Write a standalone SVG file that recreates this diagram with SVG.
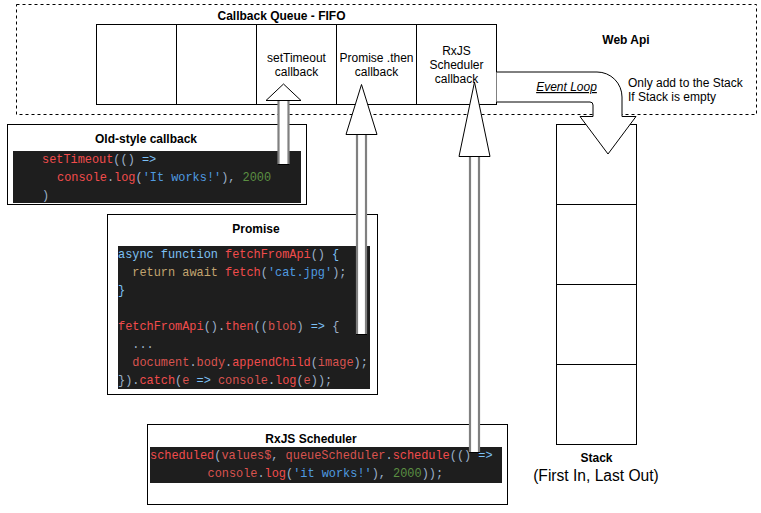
<svg xmlns="http://www.w3.org/2000/svg" width="761" height="513" viewBox="0 0 761 513">
<style>
.lbl{font-family:"Liberation Sans",Arial,sans-serif;font-size:12px;fill:#000}
.b{font-weight:bold}
.box{fill:#fff;stroke:#000;stroke-width:1}
.code{fill:#1e1e1e}
.mono{font-family:"Liberation Mono","Courier New",monospace;font-size:11.9px}
.r{fill:#f14c4c}
.v{fill:#d9534f}
.p{fill:#9cb0c8}
.k{fill:#7cc0f5}
.s{fill:#4f9be0}
.t{fill:#c2a46f}
.g{fill:#5b8f42}
.arr{fill:#fff;stroke:#000;stroke-width:1}
.shaft{stroke:#808080;stroke-width:2.2}
</style>
<rect width="761" height="513" fill="#fff"/>

<g id="web-api">
<rect x="16.5" y="4.5" width="740" height="110" fill="none" stroke="#000" stroke-dasharray="3 3"/>
<text class="lbl b" x="626" y="44" text-anchor="middle">Web Api</text>
<text class="lbl" x="628" y="87">Only add to the Stack</text>
<text class="lbl" x="628" y="101">If Stack is empty</text>
</g>

<g id="callback-queue">
<text class="lbl b" x="281.5" y="20" text-anchor="middle">Callback Queue - FIFO</text>
<rect class="box" x="96.5" y="24.5" width="80" height="80"/>
<rect class="box" x="176.5" y="24.5" width="80" height="80"/>
<rect class="box" x="256.5" y="24.5" width="80" height="80"/>
<rect class="box" x="336.5" y="24.5" width="80" height="80"/>
<rect class="box" x="416.5" y="24.5" width="80" height="80"/>
<text class="lbl" x="296.5" y="62" text-anchor="middle">setTimeout</text>
<text class="lbl" x="296.5" y="76" text-anchor="middle">callback</text>
<text class="lbl" x="376.5" y="62" text-anchor="middle">Promise .then</text>
<text class="lbl" x="376.5" y="76" text-anchor="middle">callback</text>
<text class="lbl" x="456.5" y="55" text-anchor="middle">RxJS</text>
<text class="lbl" x="456.5" y="69" text-anchor="middle">Scheduler</text>
<text class="lbl" x="456.5" y="83" text-anchor="middle">callback</text>
</g>

<g id="stack">
<rect class="box" x="556.5" y="124.5" width="80" height="80"/>
<rect class="box" x="556.5" y="204.5" width="80" height="80"/>
<rect class="box" x="556.5" y="284.5" width="80" height="80"/>
<rect class="box" x="556.5" y="364.5" width="80" height="80"/>
<text class="lbl b" x="596.5" y="462" text-anchor="middle">Stack</text>
<text class="lbl" x="596" y="481" text-anchor="middle" style="font-size:15.6px">(First In, Last Out)</text>
</g>

<g id="old-style-callback">
<rect class="box" x="7.5" y="124.5" width="299" height="80"/>
<text class="lbl b" x="146" y="143" text-anchor="middle">Old-style callback</text>
<rect class="code" x="13" y="151" width="288" height="52"/>
<text class="mono" xml:space="preserve"><tspan x="42" y="163"><tspan class="r">setTimeout</tspan><tspan class="p">(()</tspan> <tspan class="k">=&gt;</tspan></tspan><tspan x="57" y="181"><tspan class="r">console</tspan><tspan class="p">.</tspan><tspan class="r">log</tspan><tspan class="p">(</tspan><tspan class="s">'It works!'</tspan><tspan class="p">),</tspan> <tspan class="g">2000</tspan></tspan><tspan x="42" y="199" class="p">)</tspan></text>
</g>

<g id="promise">
<rect class="box" x="107.5" y="214.5" width="270" height="180"/>
<text class="lbl b" x="256" y="233" text-anchor="middle">Promise</text>
<rect class="code" x="118" y="246" width="252" height="143"/>
<text class="mono" xml:space="preserve"><tspan x="118" y="258"><tspan class="k">async function</tspan> <tspan class="r">fetchFromApi</tspan><tspan class="p">()</tspan> <tspan class="k">{</tspan></tspan><tspan x="132.3" y="276"><tspan class="t">return await</tspan> <tspan class="r">fetch</tspan><tspan class="p">(</tspan><tspan class="s">'cat.jpg'</tspan><tspan class="p">);</tspan></tspan><tspan x="118" y="294" class="k">}</tspan><tspan x="118" y="330"><tspan class="r">fetchFromApi</tspan><tspan class="p">().</tspan><tspan class="r">then</tspan><tspan class="p">((</tspan><tspan class="v">blob</tspan><tspan class="p">)</tspan> <tspan class="k">=&gt;</tspan> <tspan class="p">{</tspan></tspan><tspan x="132.3" y="348" class="p">...</tspan><tspan x="132.3" y="366"><tspan class="v">document</tspan><tspan class="p">.</tspan><tspan class="v">body</tspan><tspan class="p">.</tspan><tspan class="r">appendChild</tspan><tspan class="p">(</tspan><tspan class="v">image</tspan><tspan class="p">);</tspan></tspan><tspan x="118" y="384"><tspan class="p">}).</tspan><tspan class="r">catch</tspan><tspan class="p">(</tspan><tspan class="v">e</tspan> <tspan class="k">=&gt;</tspan> <tspan class="v">console</tspan><tspan class="p">.</tspan><tspan class="r">log</tspan><tspan class="p">(</tspan><tspan class="v">e</tspan><tspan class="p">));</tspan></tspan></text>
</g>

<g id="rxjs-scheduler">
<rect class="box" x="147.5" y="424.5" width="360" height="80"/>
<text class="lbl b" x="311" y="443" text-anchor="middle">RxJS Scheduler</text>
<rect class="code" x="150" y="447" width="352" height="36"/>
<text class="mono" xml:space="preserve"><tspan x="150" y="459"><tspan class="r">scheduled</tspan><tspan class="p">(</tspan><tspan class="v">values$</tspan><tspan class="p">,</tspan> <tspan class="v">queueScheduler</tspan><tspan class="p">.</tspan><tspan class="r">schedule</tspan><tspan class="p">(()</tspan> <tspan class="k">=&gt;</tspan></tspan><tspan x="207.5" y="477"><tspan class="v">console</tspan><tspan class="p">.</tspan><tspan class="r">log</tspan><tspan class="p">(</tspan><tspan class="s">'it works!'</tspan><tspan class="p">),</tspan> <tspan class="g">2000</tspan><tspan class="p">));</tspan></tspan></text>
</g>

<g id="connectors">
<g id="arrow-settimeout">
<rect x="278.5" y="99" width="10" height="65.5" fill="#fff" stroke="none"/>
<line class="shaft" x1="278.5" y1="100" x2="278.5" y2="164.5"/>
<line class="shaft" x1="288.5" y1="100" x2="288.5" y2="164.5"/>
<line x1="277.5" y1="164.5" x2="289.5" y2="164.5" stroke="#000"/>
<polygon class="arr" points="266,100.5 283.5,84 301,100.5"/>
</g>
<g id="arrow-promise">
<rect x="357" y="133" width="9" height="201.5" fill="#fff" stroke="none"/>
<line class="shaft" x1="357" y1="134" x2="357" y2="334.5"/>
<line class="shaft" x1="366" y1="134" x2="366" y2="334.5"/>
<line x1="356" y1="334.5" x2="367" y2="334.5" stroke="#000"/>
<polygon class="arr" points="346,134.5 361.5,84.5 377,134.5"/>
</g>
<g id="arrow-rxjs">
<rect x="470" y="155" width="9" height="297.5" fill="#fff" stroke="none"/>
<line class="shaft" x1="470" y1="156" x2="470" y2="452.5"/>
<line class="shaft" x1="479" y1="156" x2="479" y2="452.5"/>
<line x1="469" y1="452.5" x2="480" y2="452.5" stroke="#000"/>
<polygon class="arr" points="459,156.5 474.5,82 490,156.5"/>
</g>
<g id="event-loop">
<path class="arr" d="M496.5 72 L597 72 A25 25 0 0 1 622 97 L622 116.5 L636 116.5 L608 154 L580 116.5 L593 116.5 L593 105 Q593 102 590 102 L496.5 102" stroke-linejoin="round"/>
<text class="lbl" x="566.5" y="91" text-anchor="middle" font-style="italic" text-decoration="underline">Event Loop</text>
</g>
</g>
</svg>
